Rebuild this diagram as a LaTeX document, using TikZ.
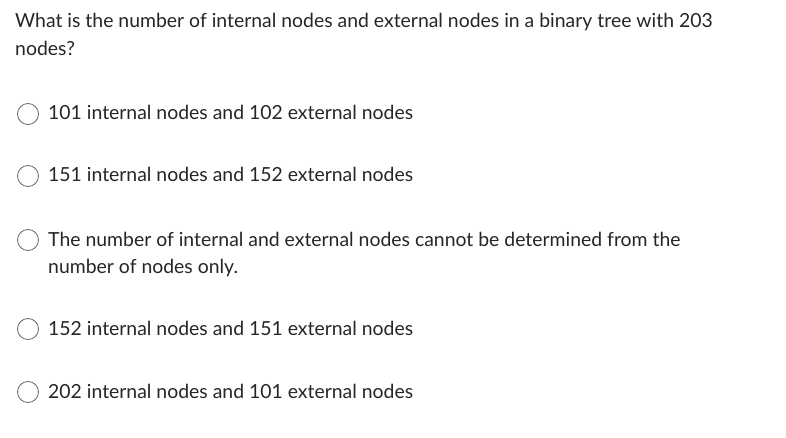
\documentclass[tikz,border=0pt]{standalone}
\usepackage{fontspec}
\setmainfont{Lato}
\begin{document}
\begin{tikzpicture}[x=1pt,y=-1pt,
  txt/.style={anchor=base west,inner sep=0pt,font=\fontsize{19.4}{22}\selectfont,text=black!85},
  radio/.style={circle,draw=black!60,line width=0.8pt,minimum size=21pt,inner sep=0pt}]
\useasboundingbox[fill=white] (0,0) rectangle (786,438);
\node[txt] (q1) at (15,28) {What is the number of internal nodes and external nodes in a binary tree with 203};
\node[txt] (q2) at (15,56) {nodes?};
\node[radio] (r1) at (28,114) {};
\node[txt] (a1) at (48,120) {101 internal nodes and 102 external nodes};
\node[radio] (r2) at (28,176) {};
\node[txt] (a2) at (48,182) {151 internal nodes and 152 external nodes};
\node[radio] (r3) at (28,240) {};
\node[txt] (a3) at (48,246) {The number of internal and external nodes cannot be determined from the};
\node[txt] (a3b) at (48,273) {number of nodes only.};
\node[radio] (r4) at (28,329) {};
\node[txt] (a4) at (48,335) {152 internal nodes and 151 external nodes};
\node[radio] (r5) at (28,392) {};
\node[txt] (a5) at (48,398) {202 internal nodes and 101 external nodes};
\end{tikzpicture}
\end{document}
